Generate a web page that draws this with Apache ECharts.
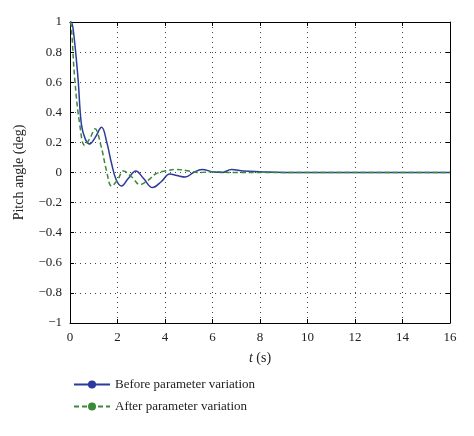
<!DOCTYPE html><html><head><meta charset="utf-8"><script src="https://cdn.jsdelivr.net/npm/echarts@6/dist/echarts.min.js"></script></head><body style="margin:0;background:#fff"><div id="c" style="width:474px;height:436px"></div><script>
const beforeT=[0,0.05,0.15,0.34,0.48,0.65,0.83,1.05,1.33,1.55,1.75,1.95,2.17,2.45,2.77,3.1,3.47,3.85,4.2,4.5,4.86,5.2,5.56,6.0,6.4,6.8,7.3,8,9,10,12,16];
const beforeY=[1,1,0.93,0.62,0.32,0.22,0.19,0.23,0.30,0.2,0.06,-0.05,-0.09,-0.04,0.01,-0.04,-0.10,-0.06,-0.01,-0.02,-0.03,0,0.02,0.005,0.0,0.02,0.01,0.005,0,0,0,0];
const afterT=[0,0.05,0.2,0.41,0.62,0.85,1.05,1.3,1.54,1.75,2.0,2.25,2.6,2.95,3.3,3.6,4.0,4.5,5.0,5.4,6,7,8,10,16];
const afterY=[1,0.98,0.62,0.32,0.18,0.23,0.29,0.18,0.01,-0.09,-0.05,0.01,-0.03,-0.08,-0.05,-0.01,0.01,0.02,0.01,0,0.005,0,0,0,0];
const xTicks=[0,2,4,6,8,10,12,14,16];
const yTicks=[-1,-0.8,-0.6,-0.4,-0.2,0,0.2,0.4,0.6,0.8,1];
const z=(a,b)=>a.map((v,i)=>[v,b[i]]);
const f='Liberation Serif';
const split={show:true,lineStyle:{type:[1,4],color:'#444'}};
const ax={axisLine:{onZero:false,lineStyle:{color:'#000'}},axisTick:{inside:true,length:4,lineStyle:{color:'#000'}}};
const yl=v=>String(v).replace('-','−');
const c=echarts.init(document.getElementById('c'));
c.setOption({animation:false,
grid:{left:70,right:24,top:22,bottom:113},
legend:{orient:'vertical',left:68,top:373,itemWidth:36,itemHeight:10,itemGap:9,textStyle:{fontFamily:f,fontSize:13,color:'#222'},
 data:['Before parameter variation','After parameter variation']},
xAxis:[{type:'value',min:0,max:16,interval:2,...ax,splitLine:split,axisLabel:{fontFamily:f,fontSize:13,color:'#222'},
 name:'{i|t} (s)',nameLocation:'middle',nameGap:28,nameTextStyle:{fontFamily:f,fontSize:14,color:'#222',rich:{i:{fontFamily:f,fontStyle:'italic',fontSize:14}}}},
 {type:'value',position:'top',min:0,max:16,interval:2,...ax,axisLabel:{show:false},splitLine:{show:false}}],
yAxis:[{type:'value',min:-1,max:1,interval:0.2,...ax,splitLine:split,axisLabel:{fontFamily:f,fontSize:13,color:'#222',formatter:v=>yl(Math.round(v*10)/10)},
 name:'Pitch angle (deg)',nameLocation:'middle',nameGap:44,nameTextStyle:{fontFamily:f,fontSize:14,color:'#222'}},
 {type:'value',position:'right',min:-1,max:1,interval:0.2,...ax,axisLabel:{show:false},splitLine:{show:false}}],
series:[{name:'Before parameter variation',type:'line',smooth:0.4,symbol:'none',data:z(beforeT,beforeY),lineStyle:{color:'#2b3a9b',width:1.5},itemStyle:{color:'#2b3a9b'}},
{name:'After parameter variation',type:'line',smooth:0.4,symbol:'none',data:z(afterT,afterY),lineStyle:{color:'#3a8a3a',width:1.5,type:[5,3]},itemStyle:{color:'#3a8a3a'}}]});
</script></body></html>
